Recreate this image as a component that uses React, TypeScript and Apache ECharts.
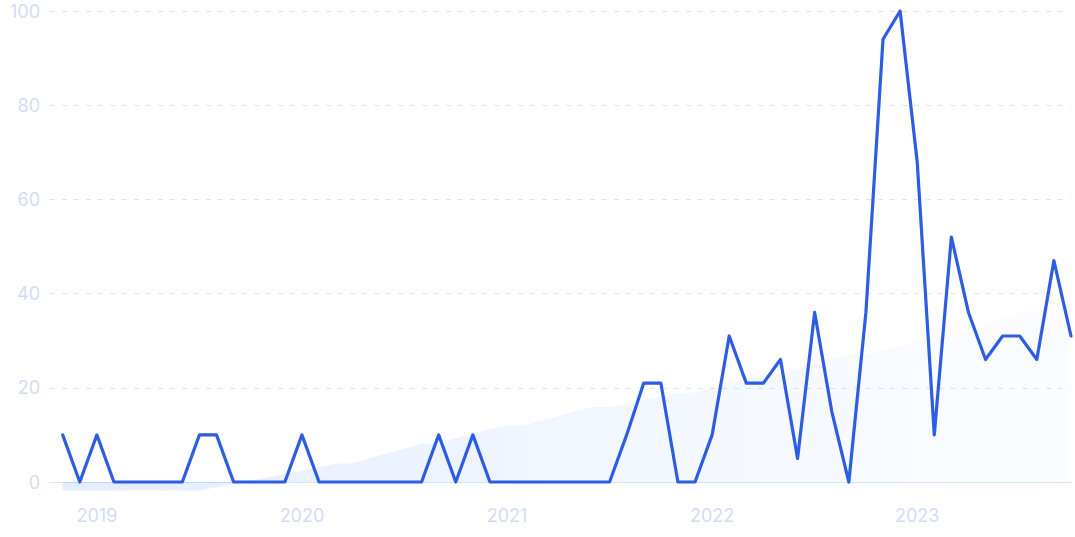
import React, { useEffect, useRef } from "react";
import * as echarts from "echarts";

const months: string[] = [
  "Nov 2018", "Dec 2018",
  "Jan 2019", "Feb 2019", "Mar 2019", "Apr 2019", "May 2019", "Jun 2019", "Jul 2019", "Aug 2019", "Sep 2019", "Oct 2019", "Nov 2019", "Dec 2019",
  "Jan 2020", "Feb 2020", "Mar 2020", "Apr 2020", "May 2020", "Jun 2020", "Jul 2020", "Aug 2020", "Sep 2020", "Oct 2020", "Nov 2020", "Dec 2020",
  "Jan 2021", "Feb 2021", "Mar 2021", "Apr 2021", "May 2021", "Jun 2021", "Jul 2021", "Aug 2021", "Sep 2021", "Oct 2021", "Nov 2021", "Dec 2021",
  "Jan 2022", "Feb 2022", "Mar 2022", "Apr 2022", "May 2022", "Jun 2022", "Jul 2022", "Aug 2022", "Sep 2022", "Oct 2022", "Nov 2022", "Dec 2022",
  "Jan 2023", "Feb 2023", "Mar 2023", "Apr 2023", "May 2023", "Jun 2023", "Jul 2023", "Aug 2023", "Sep 2023", "Oct 2023",
];

const interest: number[] = [
  10, 0, 10, 0, 0, 0, 0, 0, 10, 10,
  0, 0, 0, 0, 10, 0, 0, 0, 0, 0,
  0, 0, 10, 0, 10, 0, 0, 0, 0, 0,
  0, 0, 0, 10, 21, 21, 0, 0, 10, 31,
  21, 21, 26, 5, 36, 15, 0, 36, 94, 100,
  68, 10, 52, 36, 26, 31, 31, 26, 47, 31,
];

const trend: number[] = [
  -1.8, -1.8, -1.8, -1.8, -1.8, -1.8, -1.8, -1.8, -1.8, -1.1,
  -0.4, 0.3, 1.0, 1.7, 2.4, 3.2, 3.9, 4.0, 5.1, 6.1,
  7.1, 8.1, 8.2, 9.3, 10.3, 11.2, 12.0, 12.0, 13.0, 14.0,
  15.0, 15.9, 15.9, 16.7, 17.4, 18.1, 18.9, 19.0, 20.0, 21.0,
  22.0, 23.0, 23.0, 24.0, 25.0, 26.0, 26.9, 27.0, 28.0, 29.0,
  30.0, 31.0, 31.0, 32.3, 33.5, 34.7, 35.9, 36.0, 36.9, 37.6,
];

const yearLabels: string[] = ["2019", "2020", "2021", "2022", "2023"];
const yTicks: number[] = [0, 20, 40, 60, 80, 100];

export default function App() {
  const ref = useRef<HTMLDivElement>(null);

  useEffect(() => {
    if (!ref.current) return;
    const chart = echarts.init(ref.current, undefined, { renderer: "svg" });
    const yearPositions = yearLabels.map((y) => months.indexOf("Jan " + y));
    const labelColor = "#d3dcf5";
    const font = "Inter, 'Noto Sans', sans-serif";

    chart.setOption({
      animation: false,
      grid: { left: 50, right: 4, top: 11, bottom: 55, containLabel: false },
      xAxis: {
        type: "value",
        min: -0.743,
        max: months.length - 1,
        splitLine: { show: false },
        axisTick: { show: false },
        axisLine: { show: true, lineStyle: { color: "#d6e4f9", width: 1 } },
        axisLabel: {
          customValues: yearPositions,
          formatter: (v: number) => months[Math.round(v)].slice(-4),
          color: labelColor,
          fontSize: 18,
          fontFamily: font,
          margin: 24,
        },
      },
      yAxis: {
        type: "value",
        min: yTicks[0],
        max: yTicks[yTicks.length - 1],
        interval: 20,
        axisLine: { show: false },
        axisTick: { show: false },
        axisLabel: {
          color: labelColor,
          fontSize: 18,
          fontFamily: font,
          margin: 10,
        },
        splitLine: {
          show: true,
          lineStyle: { color: "#dce4f8", width: 1, type: [5, 7] },
        },
      },
      series: [
        {
          type: "line",
          name: "trend",
          data: trend.map((v, i) => [i, v]),
          symbol: "none",
          clip: false,
          silent: true,
          lineStyle: { width: 0, opacity: 0 },
          areaStyle: {
            origin: 0,
            color: new echarts.graphic.LinearGradient(0, 0, 1, 0, [
              { offset: 0, color: "rgba(59,130,246,0.2)" },
              { offset: 0.5, color: "rgba(59,130,246,0.1)" },
              { offset: 1, color: "rgba(59,130,246,0.03)" },
            ]),
          },
          z: 1,
        },
        {
          type: "line",
          name: "interest",
          data: interest.map((v, i) => [i, v]),
          symbol: "none",
          clip: false,
          lineStyle: { color: "#2d5de2", width: 3.2, join: "round", cap: "round" },
          z: 3,
        },
      ],
    });

    return () => chart.dispose();
  }, []);

  return (
    <div
      ref={ref}
      style={{ position: "fixed", left: 0, top: 0, width: 1075, height: 537, background: "#fff" }}
    />
  );
}
